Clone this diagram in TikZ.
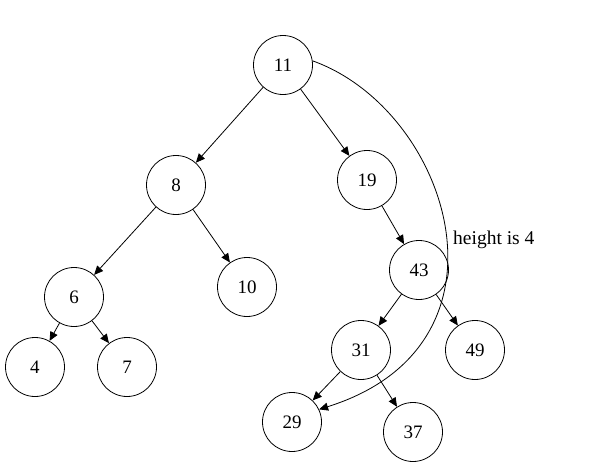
\documentclass[tikz,border=0pt]{standalone}
\usepackage{fontspec}
\setmainfont{Liberation Serif}
\usetikzlibrary{arrows.meta}
\begin{document}
\begin{tikzpicture}[x=1pt,y=-1pt,
  vtx/.style={circle,draw,line width=0.8pt,minimum size=59pt,inner sep=0pt,font=\fontsize{19}{21}\selectfont},
  edge/.style={line width=0.8pt,-{Triangle[length=9pt,width=8pt]}},
  lbl/.style={font=\fontsize{19.5}{22}\selectfont,inner sep=0pt}]
\useasboundingbox (0,0) rectangle (595,469);
\node[vtx] (n11) at (283,65) {11};
\node[vtx] (n8) at (176,185) {8};
\node[vtx] (n19) at (367,180) {19};
\node[vtx] (n6) at (74,297) {6};
\node[vtx] (n10) at (247,287) {10};
\node[vtx] (n43) at (419,270) {43};
\node[vtx] (n4) at (35,367) {4};
\node[vtx] (n7) at (127,367) {7};
\node[vtx] (n31) at (361,350) {31};
\node[vtx] (n49) at (475,350) {49};
\node[vtx] (n29) at (292,422) {29};
\node[vtx] (n37) at (413,432) {37};
\draw[edge] (n11) -- (n8);
\draw[edge] (n11) -- (n19);
\draw[edge] (n8) -- (n6);
\draw[edge] (n8) -- (n10);
\draw[edge] (n19) -- (n43);
\draw[edge] (n6) -- (n4);
\draw[edge] (n6) -- (n7);
\draw[edge] (n43) -- (n31);
\draw[edge] (n43) -- (n49);
\draw[edge] (n31) -- (n29);
\draw[edge] (n31) -- (n37);
\draw[edge] (n11.8) .. controls (450,110) and (525,345) .. (n29.25);
\node[lbl,anchor=west] (h) at (453,240) {height is 4};
\end{tikzpicture}
\end{document}
